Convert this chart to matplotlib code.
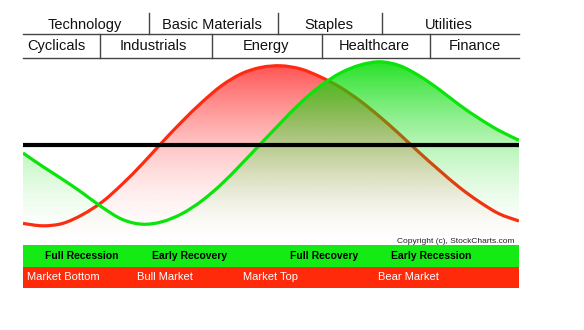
import numpy as np
import matplotlib
matplotlib.use('Agg')
import matplotlib.pyplot as plt
from matplotlib.path import Path
from matplotlib.patches import PathPatch

plt.rcParams['font.family'] = ['Liberation Sans', 'DejaVu Sans']

# position in the business cycle (%), levels relative to the black line
cycle = np.arange(0, 101, 4)
market = [-0.98, -1.01, -0.98, -0.87, -0.71, -0.49, -0.24, 0.03, 0.29, 0.53, 0.74, 0.89, 0.97,
          0.99, 0.95, 0.85, 0.72, 0.55, 0.35, 0.13, -0.10, -0.32, -0.53, -0.71, -0.86, -0.95]
economy = [-0.10, -0.27, -0.43, -0.60, -0.78, -0.93, -0.99, -0.96, -0.86, -0.70, -0.49, -0.24, 0.02,
           0.28, 0.53, 0.74, 0.90, 1.00, 1.04, 0.99, 0.86, 0.69, 0.50, 0.33, 0.18, 0.06]

# sector rotation header
row1 = ['Technology', 'Basic Materials', 'Staples', 'Utilities']
row1_edges = [25.4, 51.4, 72.4]
row1_pos = [12.5, 38.1, 61.7, 85.9]
row2 = ['Cyclicals', 'Industrials', 'Energy', 'Healthcare', 'Finance']
row2_edges = [15.5, 38.1, 60.3, 82.1]
row2_pos = [6.7, 26.2, 49.0, 70.8, 91.1]

# stages
economy_stage = ['Full Recession', 'Early Recovery', 'Full Recovery', 'Early Recession']
economy_pos = [11.9, 33.5, 60.7, 82.3]
market_stage = ['Market Bottom', 'Bull Market', 'Market Top', 'Bear Market']
market_pos = [0.8, 23.0, 44.4, 71.6]

YBOT, YTOP = -1.25, 1.0875
W, H = 584.0, 330.0


def smooth(x, y):
    # catmull-rom through the read points, drawn as bezier segments
    p = np.column_stack([x, y]).astype(float)
    verts = [tuple(p[0])]
    codes = [Path.MOVETO]
    n = len(p)
    for i in range(n - 1):
        p0 = p[max(i - 1, 0)]; p1 = p[i]; p2 = p[i + 1]; p3 = p[min(i + 2, n - 1)]
        verts += [tuple(p1 + (p2 - p0) / 6), tuple(p2 - (p3 - p1) / 6), tuple(p2)]
        codes += [Path.CURVE4] * 3
    return verts, codes


def area(ax, x, y, rgb, a_top, z):
    verts, codes = smooth(x, y)
    verts = verts + [(x[-1], YBOT), (x[0], YBOT), verts[0]]
    codes = codes + [Path.LINETO, Path.LINETO, Path.CLOSEPOLY]
    patch = PathPatch(Path(verts, codes), fc='none', ec='none')
    ax.add_patch(patch)
    h = 300
    a = np.linspace(0, 1, h) ** 1.8 * a_top
    img = np.zeros((h, 1, 4))
    img[..., :3] = rgb
    img[:, 0, 3] = a
    im = ax.imshow(img, extent=[0, 100, YBOT, 1.05], origin='lower', aspect='auto',
                   zorder=z, interpolation='bilinear')
    im.set_clip_path(patch)


def curve(ax, x, y, color, z):
    verts, codes = smooth(x, y)
    ax.add_patch(PathPatch(Path(verts, codes), fc='none', ec=color, lw=2.3, zorder=z))


fig = plt.figure(figsize=(W / 100, H / 100), dpi=100)

ax = fig.add_axes([23 / W, (H - 245) / H, 496 / W, 187 / H])
area(ax, cycle, market, (1.0, 0.2, 0.2), 0.88, 1)
curve(ax, cycle, market, '#FF2A12', 2)
area(ax, cycle, economy, (0.03, 0.87, 0.03), 0.88, 3)
curve(ax, cycle, economy, '#0AE40A', 4)
ax.axhline(0, color='black', lw=3, zorder=6)
ax.text(99.0, -1.21, 'Copyright (c), StockCharts.com', ha='right', va='center',
        fontsize=6, color='#222222', zorder=7, clip_on=False)
ax.set_xlim(0, 100)
ax.set_ylim(YBOT, YTOP)
ax.axis('off')

hx = fig.add_axes([23 / W, (H - 58) / H, 496 / W, 45 / H])
hx.set_xlim(0, 100)
hx.set_ylim(0, 45)
hx.axis('off')
lc = '#444444'
hx.plot([0, 100], [24, 24], color=lc, lw=1, clip_on=False)
hx.plot([0, 100], [0, 0], color=lc, lw=1, clip_on=False)
for e in row1_edges:
    hx.plot([e, e], [24, 45], color=lc, lw=1, clip_on=False)
for e in row2_edges:
    hx.plot([e, e], [0, 24], color=lc, lw=1, clip_on=False)
for name, p in zip(row1, row1_pos):
    hx.text(p, 33, name, ha='center', va='center', fontsize=10.5, color='#111111')
for name, p in zip(row2, row2_pos):
    hx.text(p, 12, name, ha='center', va='center', fontsize=10.5, color='#111111')

bx = fig.add_axes([23 / W, (H - 288) / H, 496 / W, 43 / H])
bx.set_xlim(0, 100)
bx.set_ylim(0, 2)
bx.axis('off')
bx.axhspan(1, 2, color='#14EB14', lw=0)
bx.axhspan(0, 1, color='#FF2A0A', lw=0)
for name, p in zip(economy_stage, economy_pos):
    bx.text(p, 1.5, name, ha='center', va='center', fontsize=7.5, fontweight='bold', color='black')
for name, p in zip(market_stage, market_pos):
    bx.text(p, 0.5, name, ha='left', va='center', fontsize=8, color='white')

fig.savefig('out.png', dpi=100)
